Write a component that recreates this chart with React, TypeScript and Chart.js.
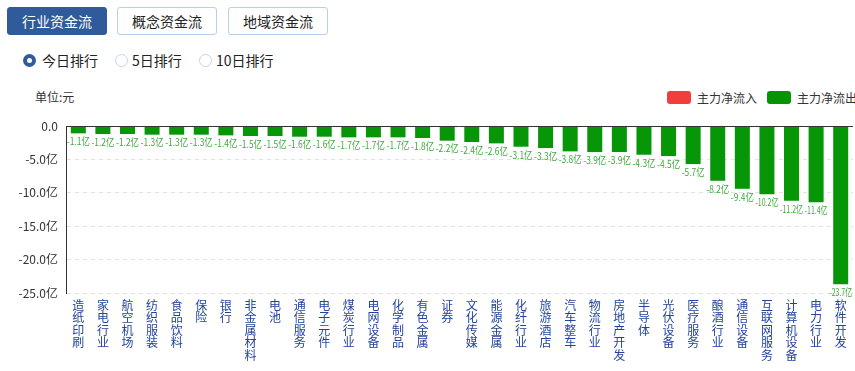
import React, { useEffect, useRef } from "react";
import { Chart, registerables } from "chart.js";

Chart.register(...registerables);

const categories: string[] = [
  "造纸印刷", "家电行业", "航空机场", "纺织服装", "食品饮料", "保险", "银行", "非金属材料",
  "电池", "通信服务", "电子元件", "煤炭行业", "电网设备", "化学制品", "有色金属", "证券",
  "文化传媒", "能源金属", "化纤行业", "旅游酒店", "汽车整车", "物流行业", "房地产开发", "半导体",
  "光伏设备", "医疗服务", "酿酒行业", "通信设备", "互联网服务", "计算机设备", "电力行业", "软件开发",
];

const netOutflow: number[] = [
  -1.1, -1.2, -1.2, -1.3, -1.3, -1.3, -1.4, -1.5,
  -1.5, -1.6, -1.6, -1.7, -1.7, -1.7, -1.8, -2.2,
  -2.4, -2.6, -3.1, -3.3, -3.8, -3.9, -3.9, -4.3,
  -4.5, -5.7, -8.2, -9.4, -10.2, -11.2, -11.4, -23.7,
];

const yTicks: number[] = [0, -5, -10, -15, -20, -25];

const tabs: string[] = ["行业资金流", "概念资金流", "地域资金流"];
const rankOptions: string[] = ["今日排行", "5日排行", "10日排行"];
const legendItems: { label: string; color: string }[] = [
  { label: "主力净流入", color: "#f23d3d" },
  { label: "主力净流出", color: "#069406" },
];

const FONT = '"Noto Sans CJK SC", "Noto Sans", sans-serif';
const BAR_GREEN = "#079607";
const LABEL_GREEN = "#3daa3d";

const zeroLinePlugin = {
  id: "zeroLine",
  afterDatasetsDraw(chart: any) {
    const { ctx, chartArea, scales } = chart;
    const y = Math.round(scales.y.getPixelForValue(0)) + 0.5;
    ctx.save();
    ctx.strokeStyle = "#333";
    ctx.lineWidth = 1;
    ctx.beginPath();
    ctx.moveTo(chartArea.left, y);
    ctx.lineTo(chartArea.right, y);
    ctx.stroke();
    ctx.restore();
  },
};

const barLabelPlugin = {
  id: "barLabels",
  afterDatasetsDraw(chart: any) {
    const { ctx } = chart;
    const meta = chart.getDatasetMeta(0);
    const data = chart.data.datasets[0].data as number[];
    ctx.save();
    ctx.font = `10px ${FONT}`;
    ctx.fillStyle = LABEL_GREEN;
    ctx.textAlign = "center";
    ctx.textBaseline = "middle";
    meta.data.forEach((bar: any, i: number) => {
      const text = data[i].toFixed(1) + "亿";
      ctx.fillText(text, bar.x, bar.y + 8, 23);
    });
    ctx.restore();
  },
};

function ChartCanvas() {
  const ref = useRef<HTMLCanvasElement | null>(null);
  useEffect(() => {
    if (!ref.current) return;
    const chart = new Chart(ref.current, {
      type: "bar",
      data: {
        labels: categories.map((c) => c.split("")),
        datasets: [
          {
            label: "主力净流出",
            data: netOutflow,
            backgroundColor: BAR_GREEN,
            borderWidth: 0,
            barPercentage: 0.61,
            categoryPercentage: 1,
          },
        ],
      },
      options: {
        animation: false,
        responsive: false,
        devicePixelRatio: 1,
        layout: { padding: { left: 0, right: 2, top: 16, bottom: 0 } },
        plugins: {
          legend: { display: false },
          tooltip: { enabled: false },
        },
        scales: {
          x: {
            grid: { display: false, drawTicks: false },
            border: { display: false },
            ticks: {
              autoSkip: false,
              maxRotation: 0,
              minRotation: 0,
              padding: 6,
              color: "#23449c",
              font: { family: FONT, size: 12, lineHeight: 1.04 },
            },
            afterFit(scale: any) {
              scale.height = 78;
            },
          },
          y: {
            min: -25,
            max: 0,
            afterBuildTicks(scale: any) {
              scale.ticks = yTicks.map((v) => ({ value: v }));
            },
            grid: {
              drawTicks: false,
              color: (ctx: any) => (ctx.tick && ctx.tick.value === 0 ? "rgba(0,0,0,0)" : "#e3e3e3"),
              lineWidth: 1,
            },
            border: { display: true, color: "#333", width: 1, dash: [4, 4] },
            ticks: {
              padding: 8,
              color: "#333",
              font: { family: FONT, size: 12 },
              callback: (v: any) => (Number(v) === 0 ? "0.0" : Number(v).toFixed(1) + "亿"),
            },
            afterFit(scale: any) {
              scale.width = 66;
            },
          },
        },
      },
      plugins: [zeroLinePlugin, barLabelPlugin],
    });
    return () => chart.destroy();
  }, []);
  return <canvas ref={ref} width={855} height={261} style={{ display: "block" }} />;
}

export default function App() {
  const tabLefts = [7, 117, 228];
  const radioLefts = [23, 115, 199];
  return (
    <div
      style={{
        position: "absolute",
        left: 0,
        top: 0,
        width: 855,
        height: 371,
        overflow: "hidden",
        background: "#fff",
        fontFamily: FONT,
        color: "#333",
      }}
    >
      {tabs.map((t, i) => (
        <div
          key={t}
          style={{
            position: "absolute",
            left: tabLefts[i],
            top: 7,
            width: 100,
            height: 28,
            boxSizing: "border-box",
            borderRadius: 3,
            border: i === 0 ? "1px solid #2f5b9a" : "1px solid #b9cfe8",
            background: i === 0 ? "#2f5b9a" : "#fff",
            color: i === 0 ? "#fff" : "#222",
            fontSize: 14,
            lineHeight: "26px",
            textAlign: "center",
          }}
        >
          {t}
        </div>
      ))}
      {rankOptions.map((r, i) => (
        <div
          key={r}
          style={{
            position: "absolute",
            left: radioLefts[i],
            top: 50,
            height: 20,
            display: "flex",
            alignItems: "center",
            fontSize: 14,
            color: "#222",
          }}
        >
          <span
            style={{
              display: "inline-block",
              width: 13,
              height: 13,
              boxSizing: "border-box",
              borderRadius: "50%",
              border: i === 0 ? "4px solid #2f5b9a" : "1px solid #c5d5ea",
              background: "#fff",
              marginRight: i === 0 ? 6 : 4,
            }}
          />
          <span>{r}</span>
        </div>
      ))}
      <div style={{ position: "absolute", left: 35, top: 89, fontSize: 12, color: "#333", lineHeight: "16px" }}>
        单位:元
      </div>
      {legendItems.map((l, i) => (
        <div
          key={l.label}
          style={{
            position: "absolute",
            left: 667 + i * 100,
            top: 89,
            height: 16,
            display: "flex",
            alignItems: "center",
            fontSize: 12,
            color: "#333",
            whiteSpace: "nowrap",
          }}
        >
          <span
            style={{
              display: "inline-block",
              width: 24,
              height: 13,
              borderRadius: 3,
              background: l.color,
              marginRight: 6,
            }}
          />
          <span>{l.label}</span>
        </div>
      ))}
      <div style={{ position: "absolute", left: 0, top: 110, width: 855, height: 261 }}>
        <ChartCanvas />
      </div>
    </div>
  );
}
